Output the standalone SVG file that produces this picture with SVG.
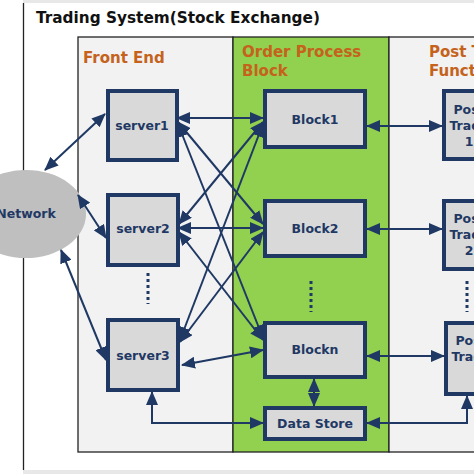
<svg xmlns="http://www.w3.org/2000/svg" width="474" height="474" viewBox="0 0 474 474">
<style>
.hd{font-family:"DejaVu Sans",Verdana,sans-serif;font-weight:bold;font-size:15px;fill:#c5621c}
.lb{font-family:"DejaVu Sans",Verdana,sans-serif;font-weight:bold;font-size:12.5px;fill:#1f3864;text-anchor:middle}
.box{fill:#d9d9d9;stroke:#1f3864;stroke-width:4}
.ln{fill:none;stroke:#1f3864;stroke-width:2;marker-start:url(#ah);marker-end:url(#ah)}
.dot{stroke:#1f3864;stroke-width:3;stroke-dasharray:3 3}
</style>
<defs>
<marker id="ah" markerUnits="userSpaceOnUse" markerWidth="14" markerHeight="12" refX="13" refY="6" orient="auto-start-reverse">
<path d="M0,0 L14,6 L0,12 Z" fill="#1f3864"/>
</marker>
</defs>
<rect x="0" y="0" width="474" height="474" fill="#ffffff"/>
<rect x="23" y="0" width="451" height="474" fill="#e8e8e8"/>
<rect x="23" y="3" width="451" height="467" fill="#ffffff"/>
<line x1="23.5" y1="3" x2="23.5" y2="470" stroke="#222" stroke-width="1.3"/>
<text x="36" y="23" font-family="DejaVu Sans,Verdana,sans-serif" font-weight="bold" font-size="15.3" fill="#111">Trading System(Stock Exchange)</text>
<g id="panels">
<rect x="78" y="37" width="155" height="415" fill="#f2f2f2" stroke="#222" stroke-width="1.3"/>
<rect x="233" y="37" width="156" height="415" fill="#92d050" stroke="#222" stroke-width="1.3"/>
<rect x="389" y="37" width="90" height="415" fill="#f2f2f2" stroke="#222" stroke-width="1.3"/>
<text class="hd" x="83" y="63">Front End</text>
<text class="hd" x="242" y="57">Order Process</text>
<text class="hd" x="242" y="76">Block</text>
<text class="hd" x="429" y="57">Post Trade</text>
<text class="hd" x="429" y="76">Functions</text>
</g>
<g id="network">
<ellipse cx="26" cy="214" rx="60" ry="44" fill="#bfbfbf"/>
<text class="lb" x="26" y="218">Network</text>
</g>
<g id="server1"><rect class="box" x="108" y="91" width="69" height="69"/><text class="lb" x="142" y="130">server1</text></g>
<g id="server2"><rect class="box" x="108" y="195" width="70" height="70"/><text class="lb" x="143" y="233">server2</text></g>
<g id="server3"><rect class="box" x="108" y="320" width="70" height="70"/><text class="lb" x="143" y="360">server3</text></g>
<g id="block1"><rect class="box" x="265" y="91" width="100" height="56"/><text class="lb" x="315" y="124">Block1</text></g>
<g id="block2"><rect class="box" x="265" y="201" width="100" height="55"/><text class="lb" x="315" y="233">Block2</text></g>
<g id="blockn"><rect class="box" x="265" y="323" width="100" height="54"/><text class="lb" x="315" y="354">Blockn</text></g>
<g id="datastore"><rect class="box" x="265" y="408" width="100" height="31"/><text class="lb" x="315" y="428">Data Store</text></g>
<g id="pt1"><rect class="box" x="444" y="91" width="52" height="68"/><text class="lb" x="469" y="114">Post</text><text class="lb" x="469" y="130">Trade</text><text class="lb" x="469" y="146">1</text></g>
<g id="pt2"><rect class="box" x="444" y="201" width="52" height="68"/><text class="lb" x="469" y="223">Post</text><text class="lb" x="469" y="239">Trade</text><text class="lb" x="469" y="255">2</text></g>
<g id="pt3"><rect class="box" x="446" y="323" width="52" height="71"/><text class="lb" x="471" y="345">Post</text><text class="lb" x="471" y="361">Trade</text></g>
<g id="dots">
<line class="dot" x1="148" y1="273" x2="148" y2="304"/>
<line class="dot" x1="311" y1="281" x2="311" y2="312"/>
<line class="dot" x1="467" y1="281" x2="467" y2="312"/>
</g>
<g id="connectors">
<line class="ln" x1="45" y1="170" x2="105" y2="114"/>
<line class="ln" x1="78" y1="195" x2="106" y2="238"/>
<line class="ln" x1="61" y1="250" x2="106" y2="360"/>
<line class="ln" x1="177" y1="118" x2="263" y2="118"/>
<line class="ln" x1="178" y1="122" x2="263" y2="224"/>
<line class="ln" x1="178" y1="124" x2="263" y2="338"/>
<line class="ln" x1="263" y1="122" x2="179" y2="224"/>
<line class="ln" x1="263" y1="124" x2="180" y2="340"/>
<line class="ln" x1="178" y1="228" x2="263" y2="228"/>
<line class="ln" x1="179" y1="232" x2="263" y2="340"/>
<line class="ln" x1="263" y1="232" x2="180" y2="342"/>
<line class="ln" x1="182" y1="365" x2="263" y2="350"/>
<line class="ln" x1="367" y1="126" x2="442" y2="126"/>
<line class="ln" x1="367" y1="229" x2="442" y2="229"/>
<line class="ln" x1="367" y1="356" x2="444" y2="356"/>
<line class="ln" x1="314" y1="379" x2="314" y2="406"/>
<polyline class="ln" points="152,392 152,423 263,423"/>
<polyline class="ln" points="367,423 467,423 467,396"/>
</g>
</svg>
